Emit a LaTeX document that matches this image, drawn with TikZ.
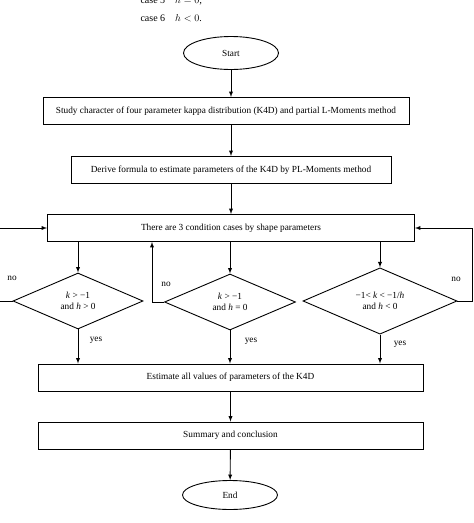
\documentclass[tikz,border=0pt]{standalone}
\usepackage{fontspec}
\setmainfont{Liberation Serif}
\usepackage{tikz}
\usetikzlibrary{arrows}
\usetikzlibrary{shapes.geometric}

\begin{document}
\begin{tikzpicture}[x=1pt,y=-1pt,>=latex,
  every node/.style={font=\fontsize{9.3}{11}\selectfont},
  procbox/.style={draw,line width=0.9pt,minimum height=27pt,inner sep=0pt},
  termnode/.style={draw,ellipse,line width=0.9pt,minimum width=95pt,inner sep=0pt},
  decision/.style={draw,diamond,line width=0.9pt,minimum height=56pt,inner sep=0pt,align=center},
  flow/.style={->,line width=0.9pt}]
  \useasboundingbox (0,0) rectangle (474,523);
  \clip (0,0) rectangle (474,523);

  \node[anchor=base west,font=\fontsize{10}{12}\selectfont] (case5) at (137,3) {case 5\quad $h=0$;};
  \node[anchor=base west,font=\fontsize{10}{12}\selectfont] (case6) at (137,21) {case 6\quad $h<0$.};

  \node[termnode,minimum height=33pt] (start) at (231,53) {Start};
  \node[procbox,minimum width=366pt] (study) at (226,111) {Study character of four parameter kappa distribution (K4D) and partial L-Moments method};
  \node[procbox,minimum width=320pt] (derive) at (231,170) {Derive formula to estimate parameters of the K4D by PL-Moments method};
  \node[procbox,minimum width=367pt] (cases) at (231,228) {There are 3 condition cases by shape parameters};

  \node[decision,minimum width=130pt] (dA) at (78,301) {\textit{k} > −1\\and \textit{h} > 0};
  \node[decision,minimum width=131pt] (dB) at (230,302) {\textit{k} > −1\\and \textit{h} = 0};
  \node[decision,minimum width=154pt] (dC) at (380,301) {−1< \textit{k} < −1/\textit{h}\\and \textit{h} < 0};

  \node[procbox,minimum width=385pt] (estimate) at (230.5,377.5) {Estimate all values of parameters of the K4D};
  \node[procbox,minimum width=385pt] (summary) at (230.5,435.5) {Summary and conclusion};
  \node[termnode,minimum height=29pt] (end) at (230,495) {End};

  \draw[flow] (start) -- (start |- study.north);
  \draw[flow] (study.south -| derive) -- (derive.north);
  \draw[flow] (derive) -- (cases);
  \draw[flow] (cases.south -| dA) -- (dA.north);
  \draw[flow] (cases.south -| dB) -- (dB.north);
  \draw[flow] (cases.south -| dC) -- (dC.north);

  \draw[flow] (dA.south) -- node[pos=0.32,right=8pt] (yesA) {yes} (dA.south |- estimate.north);
  \draw[flow] (dB.south) -- node[pos=0.32,right=11pt] (yesB) {yes} (dB.south |- estimate.north);
  \draw[flow] (dC.south) -- node[pos=0.32,right=10pt] (yesC) {yes} (dC.south |- estimate.north);

  \coordinate (leftA) at (-5,301);
  \coordinate (leftB) at (152,302);
  \coordinate (rightC) at (472,301);
  \draw[flow] (dA.west) -- (leftA) |- (cases.west);
  \draw[flow] (dB.west) -- (leftB) -- (leftB |- cases.south);
  \draw[flow] (dC.east) -- (rightC) |- (cases.east);
  \node (noA) at (12,278) {no};
  \node (noB) at (166,284) {no};
  \node (noC) at (456,279) {no};

  \draw[flow] (estimate) -- (summary);
  \draw[flow] (summary) -- (end);
\end{tikzpicture}
\end{document}
